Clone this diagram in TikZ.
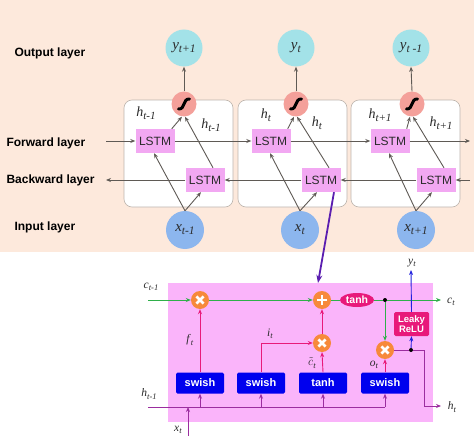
\documentclass[tikz,border=0pt]{standalone}
\usepackage{fontspec}
\setmainfont{Liberation Serif}
\setsansfont{Liberation Sans}
\usetikzlibrary{arrows.meta,shapes.geometric}
\definecolor{peach}{HTML}{FDE9DC}
\definecolor{cellgray}{HTML}{BDB5AD}
\definecolor{cyanc}{HTML}{A3E2E8}
\definecolor{sigc}{HTML}{F4A09A}
\definecolor{xc}{HTML}{8CB6EE}
\definecolor{lstmc}{HTML}{F2A8F2}
\definecolor{arrgray}{HTML}{5F5A55}
\definecolor{darktext}{HTML}{2A2A2A}
\definecolor{boxmag}{HTML}{FAB4FA}
\definecolor{gline}{HTML}{2FAF4A}
\definecolor{orangec}{HTML}{F7893B}
\definecolor{deeppink}{HTML}{E8197A}
\definecolor{bluebox}{HTML}{0000EE}
\definecolor{purpline}{HTML}{9B2D9F}
\definecolor{indigoc}{HTML}{5B1EB0}
\definecolor{blueline}{HTML}{2222DD}
\def\subsz{\footnotesize}
\newcommand\mylab[2]{\textit{#1}\raisebox{-0.45ex}{\subsz\textit{#2}}}
\tikzset{
  tip/.style={-{Stealth[length=5pt,width=4pt]}},
  garr/.style={draw=arrgray, line width=0.9pt, tip},
  cellbox/.style={fill=white, draw=cellgray, line width=0.6pt, rounded corners=8pt},
  lstm/.style={fill=lstmc, minimum width=39pt, minimum height=24pt, inner sep=0pt, font=\sffamily\fontsize{12}{12}\selectfont, text=darktext},
  ycirc/.style={circle, fill=cyanc, minimum size=37pt, inner sep=0pt, font=\fontsize{15}{15}\selectfont\def\subsz{\fontsize{11.5}{12}\selectfont}, text=darktext},
  xcirc/.style={circle, fill=xc, minimum size=38pt, inner sep=0pt, font=\fontsize{15}{15}\selectfont\def\subsz{\fontsize{11.5}{12}\selectfont}, text=darktext},
  sigcirc/.style={circle, fill=sigc, minimum size=25pt, inner sep=0pt},
  layerlab/.style={anchor=west, font=\sffamily\bfseries\fontsize{12}{12}\selectfont, text=black},
  hlab/.style={font=\fontsize{14}{14}\selectfont\def\subsz{\fontsize{11}{11}\selectfont}, text=darktext, inner sep=0pt},
  slab/.style={font=\fontsize{11.5}{12}\selectfont\def\subsz{\fontsize{8.5}{9}\selectfont}, text=darktext, inner sep=0pt},
  opc/.style={circle, fill=orangec, minimum size=18pt, inner sep=0pt},
  bluebx/.style={fill=bluebox, rounded corners=1.5pt, minimum width=48pt, minimum height=21pt, inner sep=0pt, text=white, font=\sffamily\bfseries\fontsize{11}{11}\selectfont},
  gl/.style={draw=gline, line width=0.9pt},
  pl/.style={draw=deeppink, line width=0.9pt},
  ul/.style={draw=purpline, line width=0.9pt},
  bl/.style={draw=blueline, line width=0.9pt},
  opmark/.style={draw=white, line width=2.6pt},
}
\begin{document}
\begin{tikzpicture}[x=1pt,y=-1pt]
\useasboundingbox (0,0) rectangle (474,436);
\fill[peach] (0,0) rectangle (474,252);

% layer labels
\node[layerlab] (lout) at (11,53) {Output layer};
\node[layerlab] (lfw) at (3,143) {Forward layer};
\node[layerlab] (lbw) at (3,180) {Backward layer};
\node[layerlab] (lin) at (11,227) {Input layer};

% cell boxes
\draw[cellbox] (124,100) rectangle (233,207);
\draw[cellbox] (238,100) rectangle (347,207);
\draw[cellbox] (351,100) rectangle (460,207);

% output circles
\node[ycirc] (y1) at (184,48) {\mylab{y}{t+1}};
\node[ycirc] (y2) at (296,48) {\mylab{y}{t}};
\node[ycirc] (y3) at (411,48) {\mylab{y}{t -1}};

% sigma circles
\foreach \i/\cx in {1/184,2/296,3/412}{
  \node[sigcirc] (s\i) at (\cx,104) {};
  \draw[line width=3pt, line cap=round] ([shift={(-5.5,5)}]s\i.center) .. controls ([shift={(1.5,5.5)}]s\i.center) and ([shift={(-1.5,-5.5)}]s\i.center) .. ([shift={(5.5,-5)}]s\i.center);
}

% LSTM nodes
\node[lstm] (f1) at (155,141) {LSTM};
\node[lstm] (f2) at (271,141) {LSTM};
\node[lstm] (f3) at (390,141) {LSTM};
\node[lstm] (b1) at (205,180) {LSTM};
\node[lstm] (b2) at (321,180) {LSTM};
\node[lstm] (b3) at (436,180) {LSTM};

% input circles
\node[xcirc] (x1) at (185,230) {\raisebox{4pt}{\mylab{x}{t-1}}};
\node[xcirc] (x2) at (300,230) {\raisebox{4pt}{\mylab{x}{t}}};
\node[xcirc] (x3) at (416,230) {\raisebox{4pt}{\mylab{x}{t+1}}};

% h labels
\node[hlab] (h1a) at (146,113) {\mylab{h}{t-1}};
\node[hlab] (h1b) at (211,125) {\mylab{h}{t-1}};
\node[hlab] (h2a) at (266,115) {\mylab{h}{t}};
\node[hlab] (h2b) at (317,123) {\mylab{h}{t}};
\node[hlab] (h3a) at (380,115) {\mylab{h}{t+1}};
\node[hlab] (h3b) at (441,123) {\mylab{h}{t+1}};

% free ends
\coordinate (fin) at (106,141);
\coordinate (fout) at (470,141);
\coordinate (bin) at (470,180);
\coordinate (bout) at (106,180);

% horizontal chains
\draw[garr] (fin) -- (f1.west);
\draw[garr] (f1.east) -- (f2.west);
\draw[garr] (f2.east) -- (f3.west);
\draw[garr] (f3.east) -- (fout);
\draw[garr] (bin) -- (b3.east);
\draw[garr] (b3.west) -- (b2.east);
\draw[garr] (b2.west) -- (b1.east);
\draw[garr] (b1.west) -- (bout);

% vertical connections
\foreach \i in {1,2,3}{
  \draw[garr] (x\i.north) -- ([xshift=-1pt]f\i.south);
  \draw[garr] (x\i.north) -- ([xshift=-4pt]b\i.south);
  \draw[garr] ([xshift=-3pt]f\i.north east) -- ([xshift=-2pt]s\i.south);
  \draw[garr] ([xshift=8pt]b\i.north) -- ([xshift=1pt]s\i.south);
  \draw[garr] (s\i.north) -- (y\i.south);
}

% ===== bottom cell =====
\fill[boxmag] (168,283) rectangle (433,422);

\coordinate (pin) at (318,283);
\draw[draw=indigoc, line width=1.8pt, -{Stealth[length=8pt,width=6pt]}] ([xshift=13pt]b2.south) -- (pin);

\node[opc] (mul1) at (200,300) {};
\node[opc] (plus) at (322,300) {};
\node[opc] (mul2) at (322,343) {};
\node[opc] (mul3) at (385,350) {};
\foreach \m in {mul1,mul2,mul3}{
  \draw[opmark] ([shift={(-3.6,-3.6)}]\m.center) -- ([shift={(3.6,3.6)}]\m.center);
  \draw[opmark] ([shift={(-3.6,3.6)}]\m.center) -- ([shift={(3.6,-3.6)}]\m.center);
}
\draw[opmark] ([shift={(-4.8,0)}]plus.center) -- ([shift={(4.8,0)}]plus.center);
\draw[opmark] ([shift={(0,-4.8)}]plus.center) -- ([shift={(0,4.8)}]plus.center);

\node[ellipse, fill=deeppink, minimum width=34pt, minimum height=14pt, inner sep=0pt, text=white, font=\sffamily\bfseries\fontsize{10.5}{11}\selectfont] (tanhE) at (357,300) {tanh};
\node[circle, fill=black, minimum size=4pt, inner sep=0pt] (dot1) at (385,300) {};
\node[circle, fill=black, minimum size=4pt, inner sep=0pt] (dot2) at (411,350) {};
\node[fill=deeppink, rounded corners=1.5pt, minimum width=35pt, minimum height=24pt, inner sep=0pt, align=center, text=white, font=\sffamily\bfseries\fontsize{9.5}{10}\selectfont] (relu) at (411.5,324) {Leaky\\ReLU};

\node[bluebx] (sw1) at (200,383) {swish};
\node[bluebx] (sw2) at (261,383) {swish};
\node[bluebx] (th) at (323,383) {tanh};
\node[bluebx] (sw3) at (385,383) {swish};

\coordinate (cin) at (148,300);
\coordinate (cout) at (441,300);
\coordinate (hin) at (148,407);
\coordinate (hend) at (385,407);
\coordinate (xin) at (188,436);
\coordinate (xjoin) at (188,407);
\coordinate (ytop) at (411,270);
\coordinate (hb1) at (424,350);
\coordinate (hb2) at (424,406);
\coordinate (hout) at (441,406);

% green cell line
\draw[gl, tip] (cin) -- (mul1.west);
\draw[gl, tip] (mul1.east) -- (plus.west);
\draw[gl] (plus.east) -- (tanhE.west);
\draw[gl, tip] (tanhE.east) -- (dot1) -- (cout);
\draw[gl, tip] (dot1) -- (mul3.north);

% pink gate lines
\draw[pl, tip] (sw1.north) -- (mul1.south);
\draw[pl, tip] (sw2.north) |- (mul2.west);
\draw[pl, tip] (th.north) -- (mul2.south);
\draw[pl, tip] (mul2.north) -- (plus.south);
\draw[pl, tip] (sw3.north) -- (mul3.south);

% h input line
\draw[ul] (hin) -- (hend);
\draw[ul, tip] (xin) -- (xjoin);
\foreach \b in {sw1,sw2,th,sw3}{
  \draw[ul, tip] (\b.south |- hin) -- (\b.south);
}

% outputs
\draw[ul, tip] (mul3.east) -- (dot2) -- (hb1) -- (hb2) -- (hout);
\draw[bl, tip] (dot2) -- (relu.south);
\draw[bl, tip] (relu.north) -- (ytop);

% labels bottom
\node[slab] (lct1) at (151,287) {\mylab{c}{t-1}};
\node[slab] (lht1) at (149,394) {\mylab{h}{t-1}};
\node[slab] (lxt) at (178,430) {\mylab{x}{t}};
\node[slab] (lct) at (451,302) {\mylab{c}{t}};
\node[slab] (lht) at (452,407) {\mylab{h}{t}};
\node[slab] (lyt) at (412,263) {\mylab{y}{t}};
\node[slab] (lft) at (190,340) {\mylab{f}{t}};
\node[slab] (lit) at (270,334) {\mylab{i}{t}};
\node[slab] (lcct) at (312,363) {\mylab{$\tilde{c}$}{t}};
\node[slab] (lot) at (374,365) {\mylab{o}{t}};
\end{tikzpicture}
\end{document}
